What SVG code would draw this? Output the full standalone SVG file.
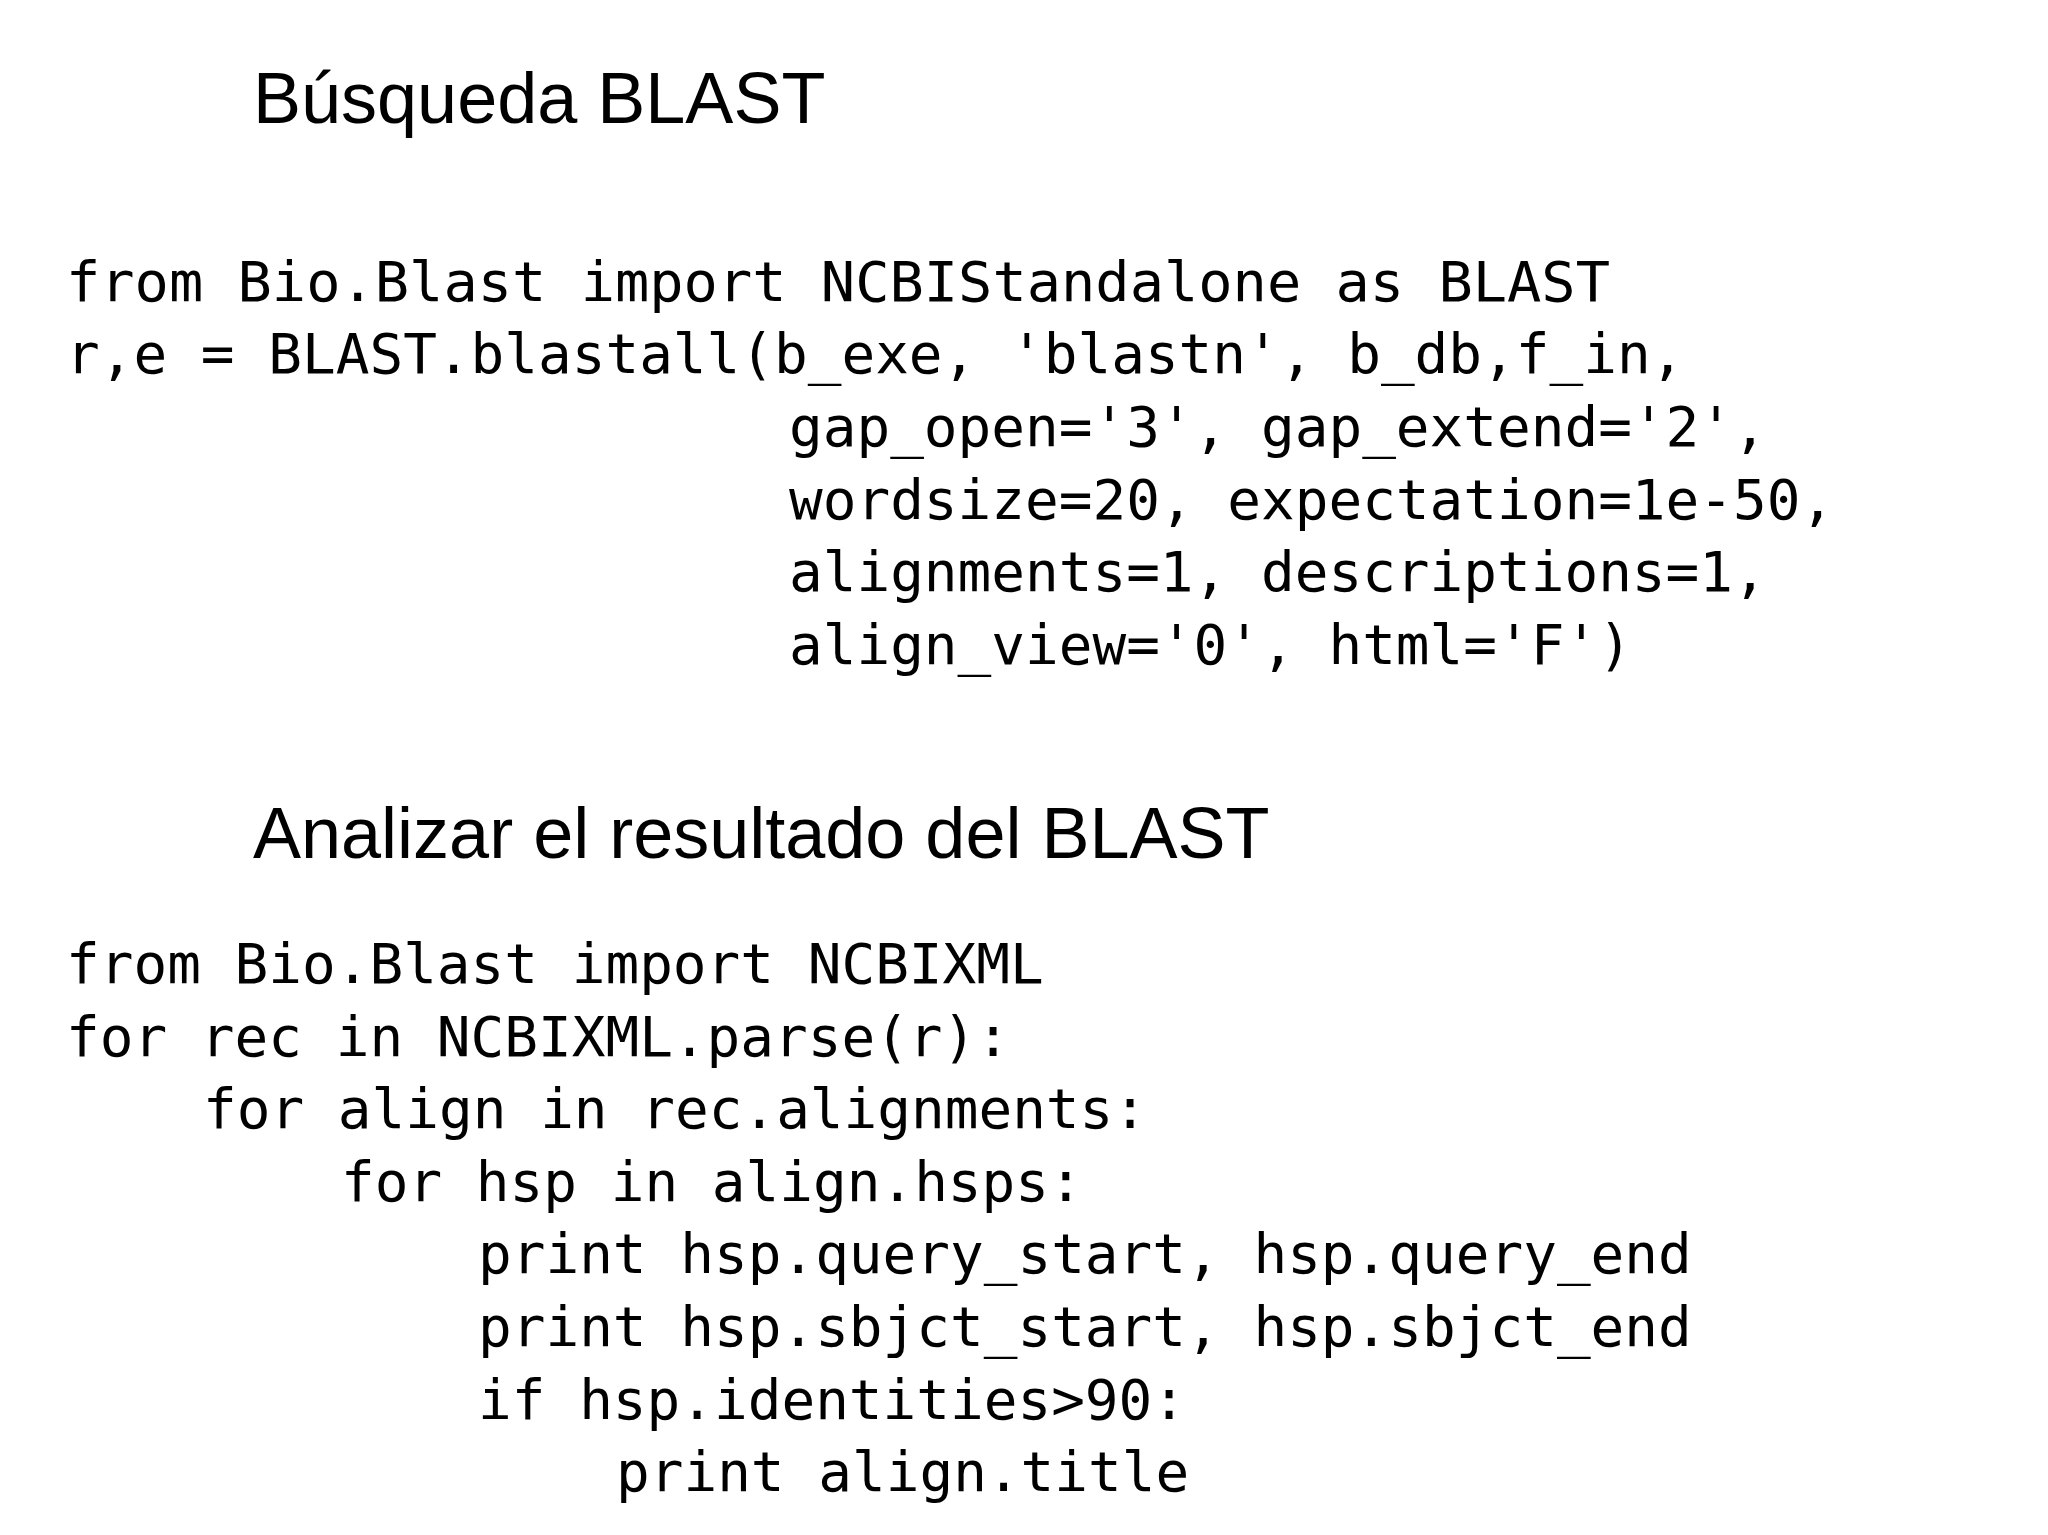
<svg xmlns="http://www.w3.org/2000/svg" width="2048" height="1535" viewBox="0 0 2048 1535">
<style>
.t{font-family:"Liberation Sans",Arial,sans-serif;font-size:72px;fill:#000}
.c{font-family:"DejaVu Sans Mono","Liberation Mono",monospace;font-size:56px;fill:#000;white-space:pre}
</style>
<rect width="2048" height="1535" fill="#fff"/>
<g id="title1"><text class="t" x="253" y="123">Búsqueda BLAST</text></g>
<g id="code1" xml:space="preserve">
<text class="c" x="66" y="301" textLength="1544" lengthAdjust="spacingAndGlyphs">from Bio.Blast import NCBIStandalone as BLAST</text>
<text class="c" x="66" y="373">r,e = BLAST.blastall(b_exe, 'blastn', b_db,f_in,</text>
<text class="c" x="789" y="446">gap_open='3', gap_extend='2',</text>
<text class="c" x="789" y="519">wordsize=20, expectation=1e-50,</text>
<text class="c" x="789" y="591">alignments=1, descriptions=1,</text>
<text class="c" x="789" y="664">align_view='0', html='F')</text>
</g>
<g id="title2"><text class="t" x="253" y="858">Analizar el resultado del BLAST</text></g>
<g id="code2" xml:space="preserve">
<text class="c" x="66" y="983">from Bio.Blast import NCBIXML</text>
<text class="c" x="66" y="1056">for rec in NCBIXML.parse(r):</text>
<text class="c" x="203" y="1128">for align in rec.alignments:</text>
<text class="c" x="341" y="1201">for hsp in align.hsps:</text>
<text class="c" x="478" y="1273">print hsp.query_start, hsp.query_end</text>
<text class="c" x="478" y="1346">print hsp.sbjct_start, hsp.sbjct_end</text>
<text class="c" x="478" y="1419">if hsp.identities&gt;90:</text>
<text class="c" x="616" y="1491">print align.title</text>
</g>
</svg>
